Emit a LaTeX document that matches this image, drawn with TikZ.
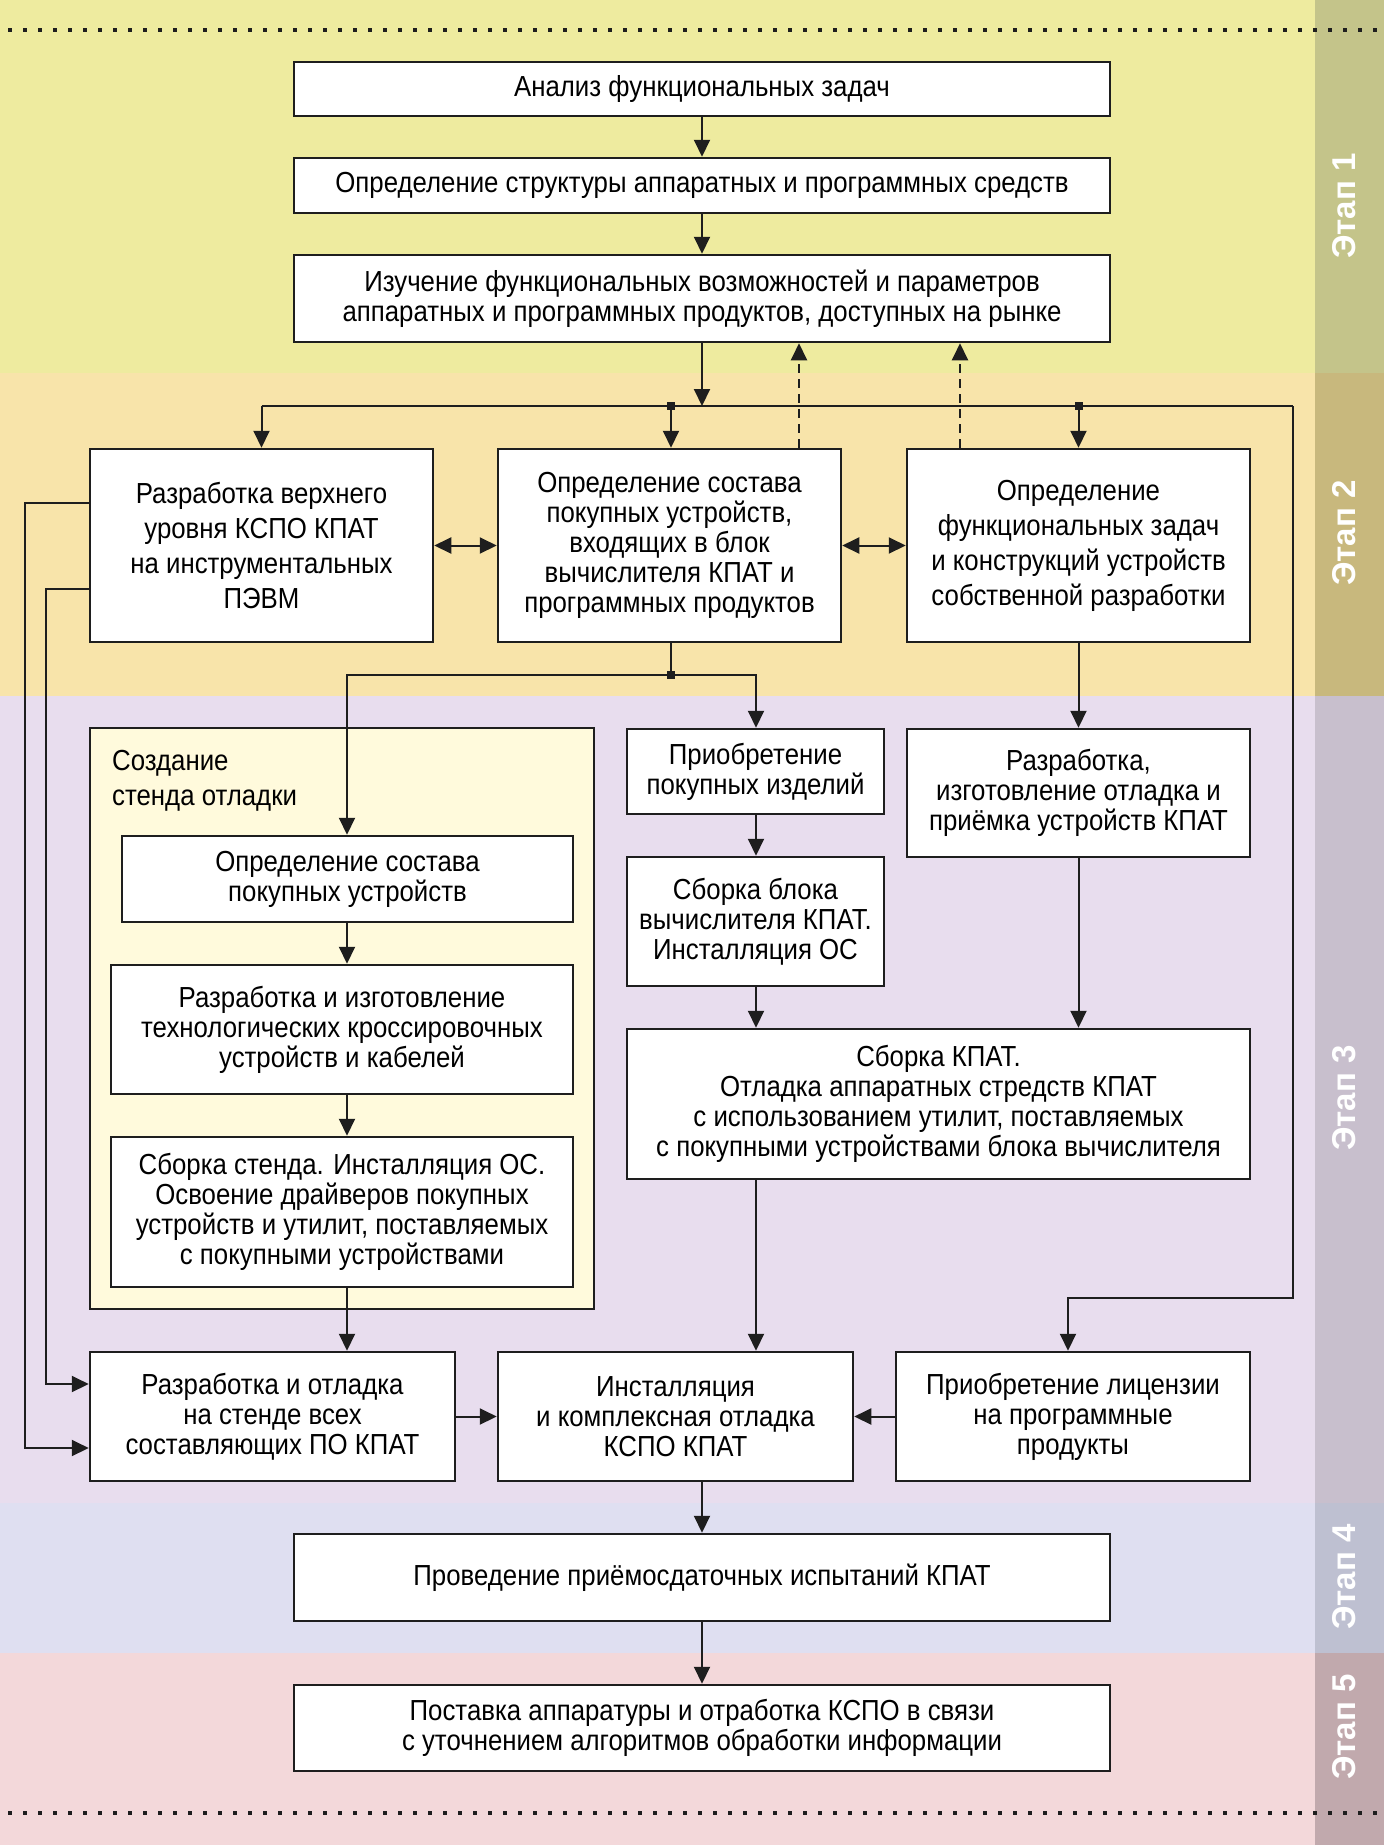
\documentclass[tikz,border=0pt]{standalone}
\usepackage{fontspec}
\setmainfont{Liberation Sans}[FakeStretch=0.89]
\newfontfamily\stagefont{Liberation Sans}
\usetikzlibrary{arrows.meta}
\definecolor{bgA}{HTML}{EEEB9F}
\definecolor{stA}{HTML}{C4C48A}
\definecolor{bgB}{HTML}{F8E4AA}
\definecolor{stB}{HTML}{C8B87D}
\definecolor{bgC}{HTML}{E8DDEE}
\definecolor{stC}{HTML}{C8BFCD}
\definecolor{bgD}{HTML}{DFDFF1}
\definecolor{stD}{HTML}{BEC0D1}
\definecolor{bgE}{HTML}{F3D8DA}
\definecolor{stE}{HTML}{C1A9AD}
\definecolor{grp}{HTML}{FFFADC}
\definecolor{ink}{HTML}{1E1E1E}
\begin{document}
\begin{tikzpicture}[x=1pt,y=-1pt,
  box/.style={draw=ink, line width=2.5pt, fill=white, align=center, inner sep=0pt,
    font=\fontsize{29}{30}\selectfont},
  widebox/.style={box, font=\fontsize{29}{35}\selectfont},
  arr/.style={-{Triangle[length=17pt,width=16pt]}, line width=2pt, draw=ink},
  arrtwo/.style={{Triangle[length=17pt,width=16pt]}-{Triangle[length=17pt,width=16pt]}, line width=2pt, draw=ink},
  darr/.style={arr, dash pattern=on 9pt off 6pt},
  wire/.style={line width=2pt, draw=ink},
  jsq/.style={fill=ink, inner sep=0pt, minimum size=8pt},
  stagelbl/.style={rotate=90, text=white, font=\stagefont\bfseries\fontsize{33}{33}\selectfont},
  dotline/.style={line width=4pt, draw=ink, dash pattern=on 4pt off 11pt}
]
\useasboundingbox (0,0) rectangle (1384,1845);
% backgrounds
\fill[bgA] (0,0) rectangle (1315,373);
\fill[stA] (1315,0) rectangle (1384,373);
\fill[bgB] (0,373) rectangle (1315,696);
\fill[stB] (1315,373) rectangle (1384,696);
\fill[bgC] (0,696) rectangle (1315,1503);
\fill[stC] (1315,696) rectangle (1384,1503);
\fill[bgD] (0,1503) rectangle (1315,1653);
\fill[stD] (1315,1503) rectangle (1384,1653);
\fill[bgE] (0,1653) rectangle (1315,1845);
\fill[stE] (1315,1653) rectangle (1384,1845);
\draw[dotline] (8,30) -- (1384,30);
\draw[dotline] (8,1813) -- (1384,1813);
% stage labels
\node[stagelbl] (e1) at (1344,206) {Этап 1};
\node[stagelbl] (e2) at (1344,533) {Этап 2};
\node[stagelbl] (e3) at (1344,1098) {Этап 3};
\node[stagelbl] (e4) at (1344,1577) {Этап 4};
\node[stagelbl] (e5) at (1344,1727) {Этап 5};
% group
\node[draw=ink, line width=2.5pt, fill=grp, minimum width=504pt, minimum height=581pt, inner sep=0pt] (G) at (342,1018.5) {};
\node[anchor=west, align=left, inner sep=0pt, font=\fontsize{29}{35}\selectfont] (Gl) at (112,781) {Создание\\стенда отладки};
% boxes
\node[box, minimum width=816pt, minimum height=54pt] (b1) at (702,89) {Анализ функциональных задач};
\node[box, minimum width=816pt, minimum height=55pt] (b2) at (702,185.5) {Определение структуры аппаратных и программных средств};
\node[box, minimum width=816pt, minimum height=87pt] (b3) at (702,298.5) {Изучение функциональных возможностей и параметров\\аппаратных и программных продуктов, доступных на рынке};
\node[widebox, minimum width=343pt, minimum height=193pt] (A) at (261.5,545.5) {Разработка верхнего\\уровня КСПО КПАТ\\на инструментальных\\ПЭВМ};
\node[box, minimum width=343pt, minimum height=193pt] (B) at (669.5,545.5) {Определение состава\\покупных устройств,\\входящих в блок\\вычислителя КПАТ и\\программных продуктов};
\node[widebox, minimum width=343pt, minimum height=193pt] (C) at (1078.5,545.5) {Определение\\функциональных задач\\и конструкций устройств\\собственной разработки};
\node[box, minimum width=451pt, minimum height=86pt] (D1) at (347.5,879) {Определение состава\\покупных устройств};
\node[box, minimum width=462pt, minimum height=129pt] (D2) at (342,1029.5) {Разработка и изготовление\\технологических кроссировочных\\устройств и кабелей};
\node[box, minimum width=462pt, minimum height=150pt] (D3) at (342,1212) {Сборка стенда. Инсталляция ОС.\\Освоение драйверов покупных\\устройств и утилит, поставляемых\\с покупными устройствами};
\node[box, minimum width=257pt, minimum height=85pt] (P1) at (755.5,771.5) {Приобретение\\покупных изделий};
\node[box, minimum width=257pt, minimum height=129pt] (P2) at (755.5,921.5) {Сборка блока\\вычислителя КПАТ.\\Инсталляция ОС};
\node[box, minimum width=343pt, minimum height=128pt] (C2) at (1078.5,793) {Разработка,\\изготовление отладка и\\приёмка устройств КПАТ};
\node[box, minimum width=623pt, minimum height=150pt] (S) at (938.5,1104) {Сборка КПАТ.\\Отладка аппаратных стредств КПАТ\\с использованием утилит, поставляемых\\с покупными устройствами блока вычислителя};
\node[box, minimum width=365pt, minimum height=129pt] (E1) at (272.5,1416.5) {Разработка и отладка\\на стенде всех\\составляющих ПО КПАТ};
\node[box, minimum width=355pt, minimum height=129pt] (E2) at (675.5,1416.5) {Инсталляция\\и комплексная отладка\\КСПО КПАТ};
\node[box, minimum width=354pt, minimum height=129pt] (E3) at (1073,1416.5) {Приобретение лицензии\\на программные\\продукты};
\node[box, minimum width=816pt, minimum height=87pt] (F1) at (702,1577.5) {Проведение приёмосдаточных испытаний КПАТ};
\node[box, minimum width=816pt, minimum height=86pt] (F2) at (702,1728) {Поставка аппаратуры и отработка КСПО в связи\\с уточнением алгоритмов обработки информации};
% coordinates
\coordinate (busC) at (702,406);
\coordinate (busL) at (261.5,406);
\coordinate (busR) at (1293,406);
\coordinate (lic) at (1068,1298);
\coordinate (d1) at (799,0);
\coordinate (d2) at (960,0);
\coordinate (l1) at (25,503);
\coordinate (l1e) at (25,1448);
\coordinate (l2) at (46,589);
\coordinate (l2e) at (46,1384);
\coordinate (cx) at (347,0);
\coordinate (px) at (756,0);
% connectors
\draw[arr] (b1) -- (b2);
\draw[arr] (b2) -- (b3);
\draw[arr] (b3) -- (busC);
\draw[wire] (busL) -- (busR);
\draw[arr] (busL) -- (A.north);
\node[jsq] (jB) at (671,406) {};
\node[jsq] (jC) at (1078.5,406) {};
\draw[arr] (jB.center) -- (jB.center |- B.north);
\draw[arr] (jC.center) -- (C.north);
\draw[arr] (busR) -- (busR |- lic) -- (lic) -- (lic |- E3.north);
\draw[darr] (B.north -| d1) -- (b3.south -| d1);
\draw[darr] (C.north -| d2) -- (b3.south -| d2);
\draw[arrtwo] (A) -- (B);
\draw[arrtwo] (B) -- (C);
\draw[arr] (A.west |- l1) -- (l1) -- (l1e) -- (E1.west |- l1e);
\draw[arr] (A.west |- l2) -- (l2) -- (l2e) -- (E1.west |- l2e);
\node[jsq] (jD) at (671,675) {};
\draw[wire] (B.south -| jD) -- (jD.center);
\draw[arr] (jD.center) -| (D1.north -| cx);
\draw[arr] (jD.center) -| (P1.north -| px);
\draw[arr] (C) -- (C2);
\draw[arr] (D1.south -| cx) -- (D2.north -| cx);
\draw[arr] (D2.south -| cx) -- (D3.north -| cx);
\draw[arr] (D3.south -| cx) -- (E1.north -| cx);
\draw[arr] (P1.south -| px) -- (P2.north -| px);
\draw[arr] (P2.south -| px) -- (S.north -| px);
\draw[arr] (C2) -- (C2.south |- S.north);
\draw[arr] (S.south -| px) -- (E2.north -| px);
\draw[arr] (E1) -- (E2);
\draw[arr] (E3) -- (E2);
\draw[arr] (E2.south -| F1.north) -- (F1.north);
\draw[arr] (F1) -- (F2);
\end{tikzpicture}
\end{document}
